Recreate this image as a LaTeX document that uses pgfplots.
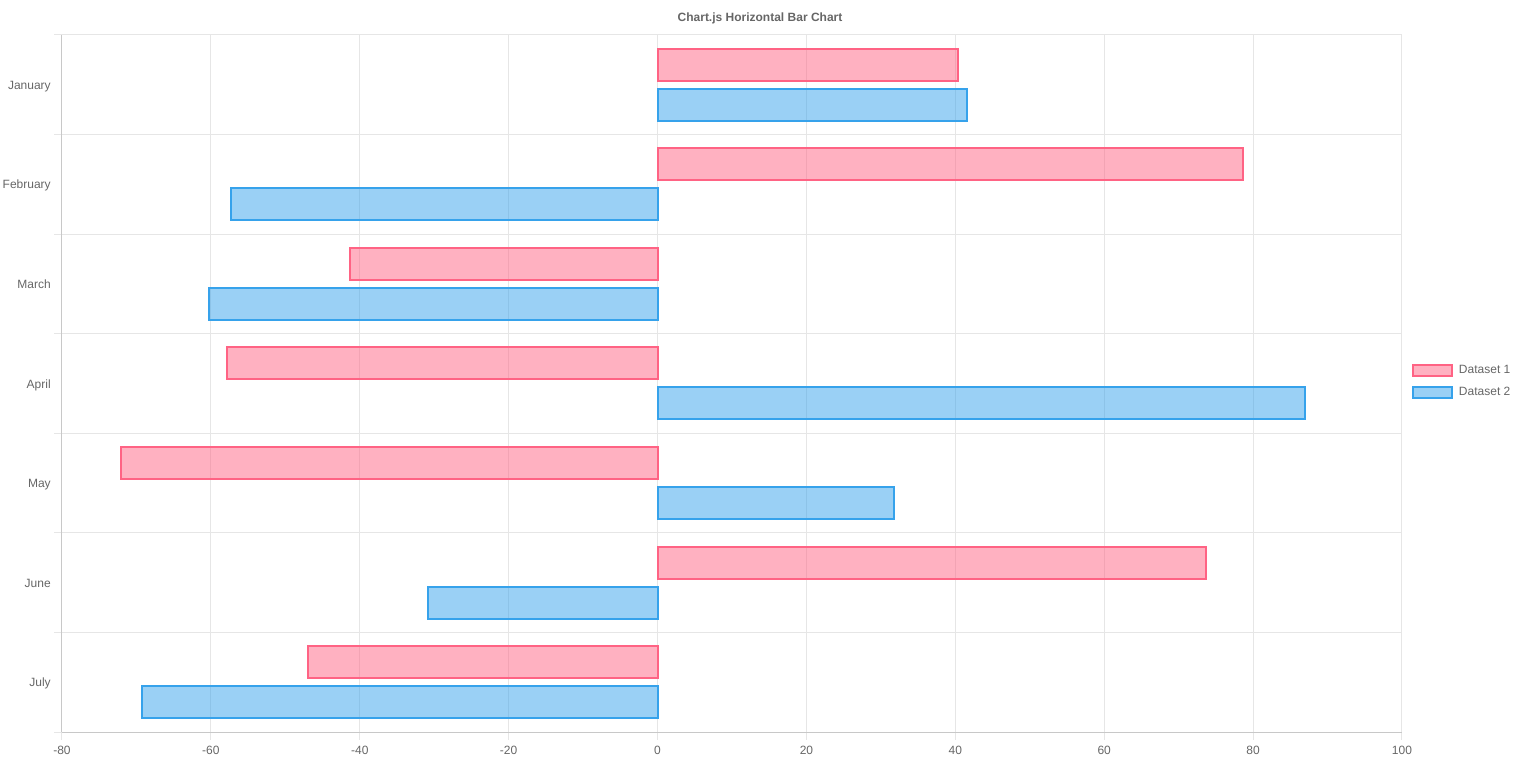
\documentclass[border=0pt]{standalone}
\usepackage{pgfplots}
\pgfplotsset{compat=1.18}
\usepackage{fontspec}
\setmainfont{Liberation Sans}
\definecolor{txt}{HTML}{666666}
\definecolor{gridc}{HTML}{E6E6E6}
\definecolor{axc}{HTML}{C8C8C8}
\definecolor{redc}{RGB}{255,99,132}
\definecolor{bluec}{RGB}{54,162,235}
\begin{document}
\begin{tikzpicture}
\useasboundingbox (0,0) rectangle (1140pt,570pt);
\node[font=\bfseries\fontsize{9}{11}\selectfont, text=txt] at (570pt,556.5pt) {Chart.js Horizontal Bar Chart};
\begin{axis}[
  at={(46.5pt,21pt)}, anchor=south west,
  scale only axis, width=1005pt, height=522.75pt,
  xbar, bar width=24pt,
  xmin=-80, xmax=100, ymin=-0.5, ymax=6.5,
  xtick={-80,-60,...,100},
  ytick={-0.5,0.5,1.5,2.5,3.5,4.5,5.5,6.5},
  yticklabels={},
  ymajorgrids, xmajorgrids,
  axis lines*=left,
  axis line style={-, draw=axc, line width=0.75pt},
  major grid style={draw=gridc, line width=0.75pt},
  tick align=outside, major tick length=6pt,
  tick style={draw=gridc, line width=0.75pt},
  extra y ticks={0,...,6},
  extra y tick labels={July,June,May,April,March,February,January},
  extra y tick style={grid=none, major tick length=0pt, tick style={draw=none}},
  ticklabel style={font=\fontsize{9}{11}\selectfont, text=txt},
  yticklabel style={inner sep=0pt, anchor=base east, yshift=-3.4pt, xshift=-8.25pt},
  xticklabel style={inner sep=0pt, yshift=-4.5pt},
  /pgf/number format/assume math mode=true,
  legend style={at={(1,0.5)}, anchor=west, xshift=7.5pt, yshift=1.5pt,
    draw=none, fill=none, inner sep=0pt, outer sep=0pt, row sep=6.75pt,
    column sep=4.5pt, font=\fontsize{9}{11}\selectfont, text=txt,
    cells={anchor=west}, nodes={inner sep=0pt}},
  legend image code/.code={\draw[#1, line width=1.5pt] (0pt,-4.125pt) rectangle (29.25pt,4.125pt);},
]
\addplot[draw=redc, fill=redc, fill opacity=0.5, line width=1.5pt, bar shift=15pt]
  coordinates {(40.35,6) (78.64,5) (-41.32,4) (-57.82,3) (-72.06,2) (73.67,1) (-46.96,0)};
\addplot[draw=bluec, fill=bluec, fill opacity=0.5, line width=1.5pt, bar shift=-15pt]
  coordinates {(41.56,6) (-57.28,5) (-60.24,4) (86.99,3) (31.78,2) (-30.85,1) (-69.26,0)};
\legend{Dataset 1, Dataset 2}
\end{axis}
\end{tikzpicture}
\end{document}
